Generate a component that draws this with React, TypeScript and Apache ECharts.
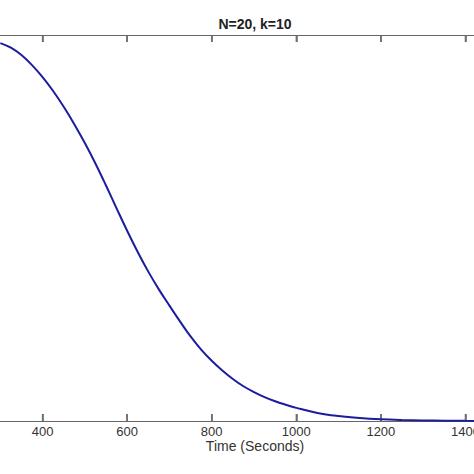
import { useEffect, useRef } from 'react';
import * as echarts from 'echarts';

// time (seconds) and curve value
const times = [
    300, 325, 350, 375, 400, 425, 450, 475, 500, 525, 550, 575, 600, 625, 650, 675,
    700, 725, 750, 775, 800, 825, 850, 875, 900, 925, 950, 975, 1000, 1050, 1100,
    1150, 1200, 1250, 1300, 1350, 1400, 1450, 1500
];
const values = [
    0.979, 0.967, 0.948, 0.922, 0.891, 0.855, 0.814, 0.769, 0.72, 0.667, 0.61, 0.551,
    0.493, 0.438, 0.387, 0.341, 0.299, 0.258, 0.219, 0.185, 0.156, 0.131, 0.109, 0.09,
    0.075, 0.062, 0.051, 0.042, 0.034, 0.021, 0.013, 0.0078, 0.0045, 0.0026, 0.0015,
    0.0008, 0.0004, 0.0002, 0.0001
];
const tickValues = [200, 400, 600, 800, 1000, 1200, 1400, 1600];

const titleText = 'N=20, k=10';
const xName = 'Time (Seconds)';
const FONT = '"Liberation Sans", Arial, Helvetica, sans-serif';
const AXIS_COLOR = '#666666';

// the visible window shows roughly 300..1420 s; the axes run 200..1600 and
// the grid overhangs the page on both sides so only that window shows
const X_MIN = 200;
const X_MAX = 1600;
const X_STEP = 200;
const TICK_LEN = 7;

const App = () => {
    const chartRef = useRef<HTMLDivElement>(null);

    useEffect(() => {
        if (!chartRef.current) return;
        const chart = echarts.init(chartRef.current, null, { renderer: 'svg' });

        const makeAxis = (position: 'top' | 'bottom') => ({
            type: 'value',
            position,
            min: X_MIN,
            max: X_MAX,
            interval: X_STEP,
            axisLine: { show: true, lineStyle: { color: AXIS_COLOR, width: 1 } },
            axisTick: {
                show: true,
                inside: true,
                length: TICK_LEN,
                lineStyle: { color: AXIS_COLOR, width: 1.5 }
            },
            axisLabel: position === 'bottom'
                ? {
                    margin: 4,
                    fontSize: 13,
                    fontFamily: FONT,
                    color: '#333',
                    formatter: (v: number) => String(v)
                }
                : { show: false },
            splitLine: { show: false }
        });

        // inward tick marks: a thin rect on the edge, shifted half its height into the plot
        const tickSeries = (edge: number, shift: number) => ({
            type: 'scatter',
            xAxisIndex: 0,
            silent: true,
            symbol: 'rect',
            symbolSize: [1.5, TICK_LEN],
            symbolOffset: [0, shift],
            itemStyle: { color: AXIS_COLOR },
            data: tickValues.map((t) => [t, edge]),
            z: 3
        });

        chart.setOption({
            animation: false,
            backgroundColor: '#ffffff',
            grid: {
                left: -42,
                right: -76,
                top: 35,
                bottom: 53,
                containLabel: false,
                outerBoundsMode: 'none'
            },
            xAxis: [makeAxis('bottom'), makeAxis('top')],
            yAxis: {
                type: 'value',
                min: 0,
                max: 1,
                axisLine: { show: false },
                axisTick: { show: false },
                axisLabel: { show: false },
                splitLine: { show: false }
            },
            graphic: [
                {
                    type: 'text',
                    x: 255,
                    y: 24,
                    style: {
                        text: titleText,
                        align: 'center',
                        verticalAlign: 'middle',
                        textAlign: 'center',
                        textVerticalAlign: 'middle',
                        fontSize: 14,
                        fontWeight: 'bold',
                        fontFamily: FONT,
                        fill: '#222'
                    }
                },
                {
                    type: 'text',
                    x: 255,
                    y: 446,
                    style: {
                        text: xName,
                        align: 'center',
                        verticalAlign: 'middle',
                        textAlign: 'center',
                        textVerticalAlign: 'middle',
                        fontSize: 14,
                        fontFamily: FONT,
                        fill: '#333'
                    }
                }
            ],
            series: [
                tickSeries(0, -TICK_LEN / 2),
                tickSeries(1, TICK_LEN / 2),
                {
                    type: 'line',
                    xAxisIndex: 0,
                    data: times.map((t, i) => [t, values[i]]),
                    showSymbol: false,
                    smooth: 0.4,
                    lineStyle: { color: '#1c1c9e', width: 2 },
                    z: 4
                }
            ]
        });

        return () => {
            chart.dispose();
        };
    }, []);

    return (
        <div
            ref={chartRef}
            style={{ position: 'fixed', left: 0, top: 0, width: 474, height: 474, background: '#fff' }}
        />
    );
};

export default App;
